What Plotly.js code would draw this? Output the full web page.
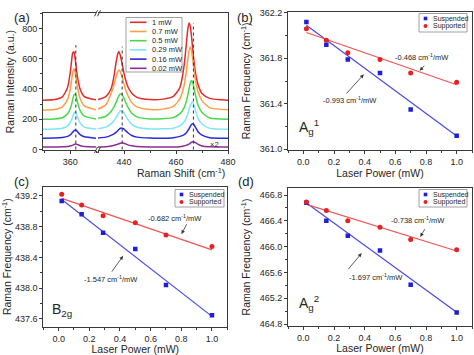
<!DOCTYPE html>
<html>
<head>
<meta charset="utf-8">
<script src="https://cdn.plot.ly/plotly-3.0.1.min.js"></script>
<style>html,body{margin:0;padding:0;background:#fff;}#chart{width:474px;height:355px;}</style>
</head>
<body>
<div id="chart"></div>
<script>
// ---------- Panel (a): Raman spectra ----------
const powerLabels = ['1 mW', '0.7 mW', '0.5 mW', '0.29 mW', '0.16 mW', '0.02 mW'];
const spectrumColors = ['#e32b2b', '#ff9d45', '#48d948', '#7ee6f8', '#2a2ae0', '#8e2d95'];

const shiftSeg1 = [348, 354, 357, 359, 360, 360.5, 361, 361.5, 362, 362.5, 363, 364, 365.5, 370];
const shiftSeg2 = [430, 433, 435, 436, 437, 437.5, 438, 438.5, 439, 439.5, 440, 440.5, 441.5, 443, 445, 450, 455, 459, 461.5, 463, 464, 464.5, 465, 465.5, 466, 466.5, 467, 467.5, 468.5, 470, 473, 480];

const int1mW_seg1   = [325, 330, 348, 410, 505, 577, 638, 646, 592, 520, 462, 392, 350, 328];
const int07mW_seg1  = [260, 265, 282, 331, 396, 448, 506, 533, 506, 448, 396, 331, 288, 263];
const int05mW_seg1  = [199, 202, 210, 236, 268, 295, 330, 362, 365, 338, 302, 252, 220, 201];
const int029mW_seg1 = [134, 136, 141, 157, 177, 194, 218, 240, 248, 232, 208, 172, 148, 135];
const int016mW_seg1 = [75, 76, 80, 87, 97, 105, 115, 125, 129, 125, 115, 97, 84, 75];
const int002mW_seg1 = [16, 17, 18, 20, 23, 26, 29, 33, 36, 35, 32, 25, 20, 17];

const int1mW_seg2   = [330, 350, 400, 470, 580, 625, 648, 628, 590, 548, 505, 468, 415, 372, 345, 330, 333, 352, 410, 540, 700, 789, 836, 814, 742, 650, 570, 505, 428, 370, 338, 326];
const int07mW_seg2  = [268, 295, 368, 419, 484, 510, 524, 518, 496, 464, 432, 402, 357, 310, 282, 265, 267, 285, 337, 413, 517, 587, 651, 678, 651, 587, 517, 458, 380, 323, 275, 263];
const int05mW_seg2  = [206, 220, 252, 277, 313, 334, 353, 366, 367, 356, 338, 317, 280, 240, 216, 202, 204, 211, 237, 272, 320, 357, 400, 439, 456, 439, 400, 357, 292, 245, 208, 200];
const int029mW_seg2 = [138, 148, 170, 187, 212, 227, 242, 254, 258, 254, 242, 227, 198, 166, 147, 136, 137, 141, 158, 180, 210, 233, 262, 291, 311, 309, 286, 256, 206, 169, 140, 134];
const int016mW_seg2 = [77, 82, 94, 102, 115, 123, 132, 139, 142, 140, 135, 127, 111, 93, 82, 76, 75, 78, 87, 97, 111, 123, 137, 153, 167, 171, 162, 147, 118, 95, 78, 75];
const int002mW_seg2 = [17, 18, 23, 27, 32, 35, 38, 41, 43, 43, 41, 38, 31, 25, 20, 17, 16, 17, 19, 24, 28, 32, 36, 42, 48, 51, 50, 45, 34, 24, 18, 16];

const seg1Series = [int1mW_seg1, int07mW_seg1, int05mW_seg1, int029mW_seg1, int016mW_seg1, int002mW_seg1];
const seg2Series = [int1mW_seg2, int07mW_seg2, int05mW_seg2, int029mW_seg2, int016mW_seg2, int002mW_seg2];

// low-power peak positions (dotted markers) and the heights the dots reach
const refPeakShift = [362.2, 439.3, 466.7];
const refPeakTop = [690, 680, 835];

// ---------- Panels (b)-(d): peak position vs laser power ----------
const laserPower = [0.02, 0.15, 0.29, 0.5, 0.7, 1.0];
const ag1Suspended = [362.12, 361.92, 361.79, 361.67, 361.35, 361.12];
const ag1Supported = [362.06, 361.96, 361.85, 361.79, 361.67, 361.59];
const b2gSuspended = [439.13, 438.96, 438.72, 438.51, 438.04, 437.65];
const b2gSupported = [439.22, 439.08, 438.94, 438.85, 438.69, 438.54];
const ag2Suspended = [466.68, 466.40, 466.17, 465.94, 465.41, 464.98];
const ag2Supported = [466.69, 466.56, 466.40, 466.30, 466.11, 465.95];

const fitPower = [0.02, 1.0];
const ag1FitSuspended = [362.09, 361.117];
const ag1FitSupported = [362.027, 361.568];
const b2gFitSuspended = [439.15, 437.634];
const b2gFitSupported = [439.165, 438.497];
const ag2FitSuspended = [466.676, 464.983];
const ag2FitSupported = [466.655, 465.932];

const slopeLabels = ['-0.993', '-0.468', '-1.547', '-0.682', '-1.697', '-0.738'];
const seriesNames = ['Suspended', 'Supported'];

// ---------- styling helpers ----------
const W = 474, H = 355;
const px = v => v / W;
const py = v => 1 - v / H;
const FONT = 'Liberation Sans, Arial, sans-serif';
const TXT = '#262626';
const AX = '#3a3a3a';
const blueC = '#1f1fd8', redC = '#e52222';
const blueLine = '#4b4be0', redLine = '#f05555';

const traces = [];
for (let i = 0; i < 6; i++) {
  traces.push({x: shiftSeg1, y: seg1Series[i], xaxis: 'x', yaxis: 'y', type: 'scatter', mode: 'lines',
    line: {color: spectrumColors[i], width: 1.5, shape: 'spline', smoothing: 0.6}, name: powerLabels[i], hoverinfo: 'skip'});
  traces.push({x: shiftSeg2, y: seg2Series[i], xaxis: 'x2', yaxis: 'y2', type: 'scatter', mode: 'lines',
    line: {color: spectrumColors[i], width: 1.5, shape: 'spline', smoothing: 0.6}, name: powerLabels[i], hoverinfo: 'skip'});
}

const panels = [
  {xa: 'x3', ya: 'y3', susp: ag1Suspended, supp: ag1Supported, fs: ag1FitSuspended, fp: ag1FitSupported},
  {xa: 'x4', ya: 'y4', susp: b2gSuspended, supp: b2gSupported, fs: b2gFitSuspended, fp: b2gFitSupported},
  {xa: 'x5', ya: 'y5', susp: ag2Suspended, supp: ag2Supported, fs: ag2FitSuspended, fp: ag2FitSupported}
];
panels.forEach(p => {
  traces.push({x: fitPower, y: p.fs, xaxis: p.xa, yaxis: p.ya, mode: 'lines', line: {color: blueLine, width: 1.2}, name: 'fit'});
  traces.push({x: fitPower, y: p.fp, xaxis: p.xa, yaxis: p.ya, mode: 'lines', line: {color: redLine, width: 1.2}, name: 'fit'});
  traces.push({x: laserPower, y: p.susp, xaxis: p.xa, yaxis: p.ya, mode: 'markers', marker: {symbol: 'square', size: 4.5, color: blueC}, name: seriesNames[0]});
  traces.push({x: laserPower, y: p.supp, xaxis: p.xa, yaxis: p.ya, mode: 'markers', marker: {symbol: 'circle', size: 5, color: redC}, name: seriesNames[1]});
});

const baseAxis = {
  showline: true, linecolor: AX, linewidth: 1, ticks: 'outside', ticklen: 3, tickwidth: 1, tickcolor: AX,
  showgrid: false, zeroline: false, tickfont: {family: FONT, size: 9, color: TXT}, fixedrange: true
};
const minorTicks = d => ({ticks: 'outside', ticklen: 2, tickcolor: AX, dtick: d, showgrid: false});
const axTitle = (t, s) => ({text: t, font: {family: FONT, size: 10.5, color: TXT}, standoff: s});

const layout = {
  width: W, height: H, margin: {l: 0, r: 0, t: 0, b: 0}, showlegend: false,
  paper_bgcolor: '#fff', plot_bgcolor: '#fff', font: {family: FONT, color: TXT},
  xaxis: Object.assign({}, baseAxis, {domain: [px(43), px(96)], range: [349.5, 370], anchor: 'y', mirror: true,
    tickmode: 'array', tickvals: [360], minor: Object.assign(minorTicks(10), {tick0: 0})}),
  xaxis2: Object.assign({}, baseAxis, {domain: [px(98), px(228)], range: [430, 480], anchor: 'y2', mirror: true,
    tickmode: 'array', tickvals: [440, 460, 480], minor: Object.assign(minorTicks(10), {tick0: 0})}),
  yaxis: Object.assign({}, baseAxis, {domain: [py(150), py(13.3)], range: [-3, 900], anchor: 'x',
    tickmode: 'array', tickvals: [0, 200, 400, 600, 800], minor: Object.assign(minorTicks(100), {tick0: 0}),
    title: axTitle('Raman Intensity (a.u.)', 5)}),
  yaxis2: Object.assign({}, baseAxis, {domain: [py(150), py(13.3)], range: [-3, 900], anchor: 'x2', side: 'right',
    ticks: '', showticklabels: false}),

  xaxis3: Object.assign({}, baseAxis, {domain: [px(288), px(472)], range: [-0.1, 1.1], anchor: 'y3', mirror: true,
    tick0: 0, dtick: 0.2, tickformat: '.1f', minor: minorTicks(0.1), title: axTitle('Laser Power (mW)', 3)}),
  yaxis3: Object.assign({}, baseAxis, {domain: [py(150), py(11.7)], range: [360.994, 362.21], anchor: 'x3', mirror: true,
    tick0: 361.0, dtick: 0.4, tickformat: '.1f', minor: minorTicks(0.2), title: axTitle('Raman Frequency (cm<sup>-1</sup>)', 6)}),

  xaxis4: Object.assign({}, baseAxis, {domain: [px(43.3), px(227.3)], range: [-0.1, 1.1], anchor: 'y4', mirror: true,
    tick0: 0, dtick: 0.2, tickformat: '.1f', minor: minorTicks(0.1), title: axTitle('Laser Power (mW)', 3)}),
  yaxis4: Object.assign({}, baseAxis, {domain: [py(326.7), py(186.7)], range: [437.5, 439.317], anchor: 'x4', mirror: true,
    tick0: 437.6, dtick: 0.4, tickformat: '.1f', minor: minorTicks(0.2), title: axTitle('Raman Frequency (cm<sup>-1</sup>)', 6)}),

  xaxis5: Object.assign({}, baseAxis, {domain: [px(288), px(472)], range: [-0.1, 1.1], anchor: 'y5', mirror: true,
    tick0: 0, dtick: 0.2, tickformat: '.1f', minor: minorTicks(0.1), title: axTitle('Laser Power (mW)', 3)}),
  yaxis5: Object.assign({}, baseAxis, {domain: [py(325.7), py(188.3)], range: [464.774, 466.904], anchor: 'x5', mirror: true,
    tick0: 464.8, dtick: 0.4, tickformat: '.1f', minor: minorTicks(0.2), title: axTitle('Raman Frequency (cm<sup>-1</sup>)', 6)}),
  shapes: [], annotations: []
};

// dotted reference lines in panel (a)
const refAxes = ['x', 'x2', 'x2'];
const refYAxes = ['y', 'y2', 'y2'];
refPeakShift.forEach((s, i) => {
  layout.shapes.push({type: 'line', xref: refAxes[i], yref: refYAxes[i], x0: s, x1: s, y0: 0, y1: refPeakTop[i],
    line: {color: '#333', width: 1, dash: 'dot'}});
});
// axis-break marks
[150, 13.3].forEach(yy => {
  [[94.5, 97.5], [97.5, 100.5]].forEach(([a, b]) => {
    layout.shapes.push({type: 'line', xref: 'paper', yref: 'paper', x0: px(a), x1: px(b), y0: py(yy + 3), y1: py(yy - 3),
      line: {color: AX, width: 1}});
  });
});

// legend of panel (a)
layout.shapes.push({type: 'rect', xref: 'paper', yref: 'paper', x0: px(126), x1: px(182), y0: py(72), y1: py(17.5),
  line: {color: '#888', width: 0.8}, fillcolor: 'rgba(255,255,255,0)'});
powerLabels.forEach((lab, i) => {
  const yy = 22.3 + i * 9.2;
  layout.shapes.push({type: 'line', xref: 'paper', yref: 'paper', x0: px(130), x1: px(146.5), y0: py(yy), y1: py(yy),
    line: {color: spectrumColors[i], width: 1.6}});
  layout.annotations.push({xref: 'paper', yref: 'paper', x: px(149.5), y: py(yy), xanchor: 'left', yanchor: 'middle',
    text: lab, showarrow: false, font: {family: FONT, size: 7.5, color: TXT}});
});

// legends of panels (b)-(d)
const legBoxes = [[419, 467, 13.5, 32], [175, 224, 189.5, 207], [419, 467, 189.5, 207]];
legBoxes.forEach(([x0, x1, y0, y1]) => {
  layout.shapes.push({type: 'rect', xref: 'paper', yref: 'paper', x0: px(x0), x1: px(x1), y0: py(y1), y1: py(y0),
    line: {color: '#888', width: 0.8}});
  const ya = y0 + 5, yb = y0 + 12.5, mx = x0 + 6.5;
  layout.shapes.push({type: 'rect', xref: 'paper', yref: 'paper', x0: px(mx - 1.8), x1: px(mx + 1.8), y0: py(ya + 1.8), y1: py(ya - 1.8),
    line: {width: 0}, fillcolor: blueC});
  layout.shapes.push({type: 'circle', xref: 'paper', yref: 'paper', x0: px(mx - 2), x1: px(mx + 2), y0: py(yb + 2), y1: py(yb - 2),
    line: {width: 0}, fillcolor: redC});
  [ya, yb].forEach((yy, k) => {
    layout.annotations.push({xref: 'paper', yref: 'paper', x: px(x0 + 12), y: py(yy), xanchor: 'left', yanchor: 'middle',
      text: seriesNames[k], showarrow: false, font: {family: FONT, size: 7, color: TXT}});
  });
});

// data -> pixel helper for arrows
function toPix(xr, yr, x, y) {
  const xa = layout['xaxis' + xr.slice(1)], ya = layout['yaxis' + yr.slice(1)];
  const fx = xa.domain[0] + (x - xa.range[0]) / (xa.range[1] - xa.range[0]) * (xa.domain[1] - xa.domain[0]);
  const fy = ya.domain[0] + (y - ya.range[0]) / (ya.range[1] - ya.range[0]) * (ya.domain[1] - ya.domain[0]);
  return [fx * W, (1 - fy) * H];
}

// slope labels and arrows (data coordinates)
const slopeText = [
  {xr: 'x3', yr: 'y3', x: 0.305, y: 361.433, lab: slopeLabels[0], tail: [0.281, 361.49], head: [0.395, 361.66]},
  {xr: 'x3', yr: 'y3', x: 0.776, y: 361.81, lab: slopeLabels[1], tail: [0.789, 361.735], head: [0.758, 361.69]},
  {xr: 'x4', yr: 'y4', x: 0.342, y: 438.12, lab: slopeLabels[2], tail: [0.347, 438.214], head: [0.421, 438.42]},
  {xr: 'x4', yr: 'y4', x: 0.761, y: 438.915, lab: slopeLabels[3], tail: [0.835, 438.83], head: [0.801, 438.7]},
  {xr: 'x5', yr: 'y5', x: 0.471, y: 465.53, lab: slopeLabels[4], tail: [0.293, 465.65], head: [0.381, 465.9]},
  {xr: 'x5', yr: 'y5', x: 0.75, y: 466.41, lab: slopeLabels[5], tail: [0.792, 466.27], head: [0.762, 466.15]}
];
slopeText.forEach(s => {
  layout.annotations.push({xref: s.xr, yref: s.yr, x: s.x, y: s.y, text: s.lab + ' cm<sup>-1</sup>/mW', showarrow: false,
    font: {family: FONT, size: 7.5, color: TXT}});
  const [tx, ty] = toPix(s.xr, s.yr, s.tail[0], s.tail[1]);
  const [hx, hy] = toPix(s.xr, s.yr, s.head[0], s.head[1]);
  const len = Math.hypot(hx - tx, hy - ty), ux = (hx - tx) / len, uy = (hy - ty) / len;
  const L = 4, w = 1.8;
  const bx = hx - L * ux, by = hy - L * uy;
  layout.shapes.push({type: 'line', xref: 'paper', yref: 'paper', x0: px(tx), y0: py(ty), x1: px(bx), y1: py(by),
    line: {color: '#333', width: 0.8}});
  const p1 = [bx - w * uy, by + w * ux], p2 = [bx + w * uy, by - w * ux];
  layout.shapes.push({type: 'path', xref: 'paper', yref: 'paper',
    path: `M${px(hx)},${py(hy)} L${px(p1[0])},${py(p1[1])} L${px(p2[0])},${py(p2[1])} Z`,
    fillcolor: '#333', line: {width: 0}});
});

// mode labels
layout.annotations.push({xref: 'x3', yref: 'y3', x: 0.04, y: 361.2, text: 'A<sub>g</sub><sup>1</sup>', showarrow: false, font: {family: FONT, size: 14, color: TXT}});
layout.annotations.push({xref: 'x4', yref: 'y4', x: 0.02, y: 437.72, text: 'B<sub>2g</sub>', showarrow: false, font: {family: FONT, size: 14, color: TXT}});
layout.annotations.push({xref: 'x5', yref: 'y5', x: 0.04, y: 465.12, text: 'A<sub>g</sub><sup>2</sup>', showarrow: false, font: {family: FONT, size: 14, color: TXT}});

// panel (a) x title spanning both segments, and the x2 scaling note
layout.annotations.push({xref: 'paper', yref: 'paper', x: px(135), y: py(172), text: 'Raman Shift (cm<sup>-1</sup>)', showarrow: false,
  font: {family: FONT, size: 10.5, color: TXT}});
layout.annotations.push({xref: 'paper', yref: 'paper', x: px(214), y: py(144), text: '×2', showarrow: false,
  font: {family: FONT, size: 7.5, color: TXT}});

// panel letters
[['(a)', 12, 8], ['(b)', 245, 8], ['(c)', 12, 181], ['(d)', 246, 181]].forEach(([t, x, y]) => {
  layout.annotations.push({xref: 'paper', yref: 'paper', x: px(x), y: py(y), text: t, showarrow: false,
    font: {family: FONT, size: 13, color: TXT}});
});

Plotly.newPlot('chart', traces, layout, {staticPlot: true, displayModeBar: false});
</script>
</body>
</html>
